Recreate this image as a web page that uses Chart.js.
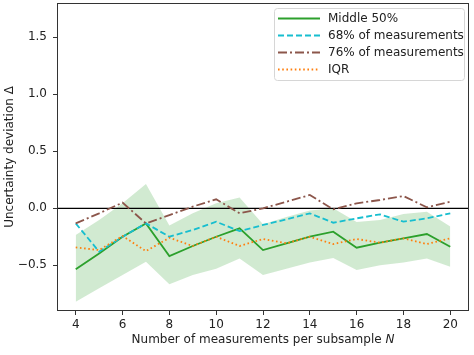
<!DOCTYPE html>
<html>
<head>
<meta charset="utf-8">
<script src="https://cdn.jsdelivr.net/npm/chart.js@4.4.1/dist/chart.umd.min.js"></script>
<style>
html,body{margin:0;padding:0;background:#fff;}
#wrap{width:474px;height:355px;position:relative;}
</style>
</head>
<body>
<div id="wrap"><canvas id="c"></canvas></div>
<script>
// ---- data ----
const N = [4,5,6,7,8,9,10,11,12,13,14,15,16,17,18,19,20];
const middle50 = [-0.535,-0.395,-0.249,-0.132,-0.418,-0.33,-0.249,-0.175,-0.366,-0.307,-0.249,-0.205,-0.345,-0.301,-0.263,-0.225,-0.337];
const pct68 = [-0.132,-0.38,-0.25,-0.132,-0.249,-0.19,-0.117,-0.2,-0.146,-0.097,-0.044,-0.126,-0.088,-0.053,-0.117,-0.088,-0.044];
const pct76 = [-0.132,-0.044,0.05,-0.132,-0.059,0.015,0.079,-0.044,0.0,0.058,0.117,-0.009,0.044,0.073,0.108,0.009,0.058];
const iqr = [-0.342,-0.366,-0.243,-0.375,-0.258,-0.33,-0.249,-0.33,-0.269,-0.307,-0.249,-0.313,-0.269,-0.301,-0.263,-0.313,-0.263];
const bandUpper = [-0.234,-0.103,0.044,0.213,-0.15,-0.044,0.044,0.094,-0.14,-0.075,-0.02,0.0,-0.12,-0.103,-0.05,-0.03,-0.16];
const bandLower = [-0.82,-0.70,-0.585,-0.468,-0.665,-0.585,-0.53,-0.44,-0.585,-0.53,-0.475,-0.435,-0.54,-0.5,-0.475,-0.44,-0.512];
const xTicks = [4,6,8,10,12,14,16,18,20];
const yTicks = [-0.5,0.0,0.5,1.0,1.5];
const xRange = [3.2, 20.8];
const yRange = [-0.9, 1.8];
const zeroLine = [0, 0];
const xTitle = 'Number of measurements per subsample ';
const xTitleVar = 'N';
const yTitle = 'Uncertainty deviation Δ';

const pts = (arr) => arr.map((v,i) => ({x: N[i], y: v}));

Chart.defaults.font.family = "'DejaVu Sans', sans-serif";
Chart.defaults.font.size = 12;
Chart.defaults.color = '#222';

const lineDatasets = [
  {label:'Middle 50%', data: pts(middle50), borderColor:'#2ca02c', borderWidth:1.8, borderDash:[], order:4},
  {label:'68% of measurements', data: pts(pct68), borderColor:'#17becf', borderWidth:1.8, borderDash:[6,3], order:3},
  {label:'76% of measurements', data: pts(pct76), borderColor:'#8c564b', borderWidth:1.8, borderDash:[9,3,2,3], order:2},
  {label:'IQR', data: pts(iqr), borderColor:'#ff7f0e', borderWidth:1.8, borderDash:[1.6,2.6], order:1},
];

const datasets = [
  {label:'_lower', data: pts(bandLower), borderWidth:0, borderColor:'rgba(0,0,0,0)', fill:false, order:10},
  {label:'_upper', data: pts(bandUpper), borderWidth:0, borderColor:'rgba(0,0,0,0)', backgroundColor:'rgba(44,160,44,0.22)', fill:'-1', order:9},
  {label:'_zero', data: xRange.map((x,i)=>({x:x, y:zeroLine[i]})), borderColor:'#000', borderWidth:1.3, order:8},
  ...lineDatasets
].map(d => Object.assign({pointRadius:0, pointHoverRadius:0, tension:0, borderCapStyle:'butt'}, d));

const framePlugin = {
  id:'frame',
  afterDatasetsDraw(chart){
    const {ctx, chartArea:a} = chart;
    ctx.save();
    ctx.strokeStyle = '#333';
    ctx.lineWidth = 1;
    ctx.strokeRect(Math.round(a.left)+0.5, Math.round(a.top)+0.5, Math.round(a.right-a.left)-1, Math.round(a.bottom-a.top)-1);
    ctx.restore();
  },
  afterDraw(chart){
    const {ctx, chartArea:a} = chart;
    ctx.save();
    // x title with italic N
    ctx.font = "12px 'DejaVu Sans', sans-serif";
    const w1 = ctx.measureText(xTitle).width;
    ctx.font = "italic 12px 'DejaVu Sans', sans-serif";
    const w2 = ctx.measureText(xTitleVar).width;
    const cx = (a.left + a.right)/2;
    let sx = cx - (w1+w2)/2;
    ctx.fillStyle = '#222';
    ctx.textBaseline = 'middle';
    ctx.textAlign = 'left';
    ctx.font = "12px 'DejaVu Sans', sans-serif";
    ctx.fillText(xTitle, sx, 340);
    ctx.font = "italic 12px 'DejaVu Sans', sans-serif";
    ctx.fillText(xTitleVar, sx + w1, 340);

    // legend
    const bw = 190, bh = 72;
    const bx = a.right - 5 - bw, by = a.top + 5;
    ctx.beginPath();
    if (ctx.roundRect) ctx.roundRect(bx+0.5, by+0.5, bw, bh, 3); else ctx.rect(bx+0.5, by+0.5, bw, bh);
    ctx.fillStyle = 'rgba(255,255,255,0.85)';
    ctx.fill();
    ctx.strokeStyle = '#d6d6d6';
    ctx.lineWidth = 1;
    ctx.stroke();
    ctx.font = "12px 'DejaVu Sans', sans-serif";
    lineDatasets.forEach((d, i) => {
      const yy = by + 10.5 + i*17;
      ctx.beginPath();
      ctx.setLineDash(d.borderDash);
      ctx.strokeStyle = d.borderColor;
      ctx.lineWidth = d.borderWidth;
      ctx.moveTo(bx + 4, yy);
      ctx.lineTo(bx + 46, yy);
      ctx.stroke();
      ctx.setLineDash([]);
      ctx.fillStyle = '#222';
      ctx.fillText(d.label, bx + 54, yy + 0.5);
    });
    ctx.restore();
  }
};

new Chart(document.getElementById('c'), {
  type:'line',
  data:{ datasets },
  options:{
    responsive:true,
    maintainAspectRatio:false,
    animation:false,
    events:[],
    layout:{ padding:{ top:3, right:5, left:0, bottom:0 } },
    plugins:{
      legend:{ display:false },
      tooltip:{ enabled:false },
      filler:{ drawTime:'beforeDatasetsDraw', propagate:false }
    },
    scales:{
      x:{
        type:'linear',
        min:xRange[0], max:xRange[1],
        afterBuildTicks(s){ s.ticks = xTicks.map(v=>({value:v})); },
        afterFit(s){ s.height = 44; s.paddingLeft = 0; s.paddingRight = 0; },
        ticks:{ padding:3, maxRotation:0, autoSkip:false, callback:(v)=>String(v), color:'#222' },
        grid:{ display:true, drawOnChartArea:false, drawTicks:true, tickLength:4, tickColor:'#333', tickWidth:1 },
        border:{ display:false },
        title:{ display:false }
      },
      y:{
        type:'linear',
        min:yRange[0], max:yRange[1],
        afterBuildTicks(s){ s.ticks = yTicks.map(v=>({value:v})); },
        afterFit(s){ s.width = 57; s.paddingTop = 0; s.paddingBottom = 0; },
        ticks:{ padding:6, autoSkip:false, color:'#222', callback:(v)=> (v<0?'\u2212':'') + Math.abs(v).toFixed(1) },
        grid:{ display:true, drawOnChartArea:false, drawTicks:true, tickLength:4, tickColor:'#333', tickWidth:1 },
        border:{ display:false },
        title:{ display:true, text:yTitle, padding:{top:3,bottom:3}, color:'#222', font:{size:12} }
      }
    }
  },
  plugins:[framePlugin]
});
</script>
</body>
</html>
